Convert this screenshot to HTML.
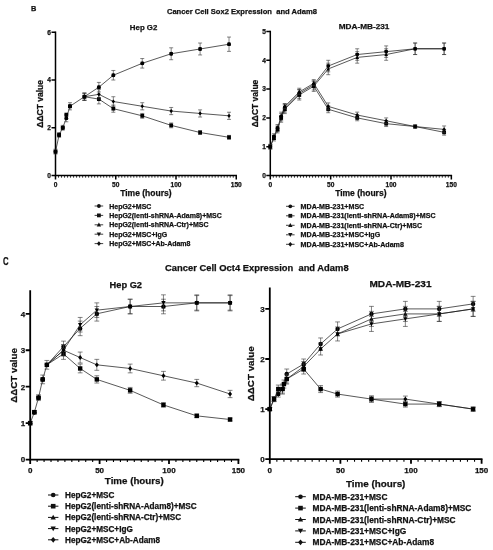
<!DOCTYPE html>
<html lang="en"><head><meta charset="utf-8"><title>Figure</title>
<style>html,body{margin:0;padding:0;background:#fff}svg{display:block}text{stroke:#111;stroke-width:.25px;stroke-linejoin:round}</style></head>
<body>
<svg width="493" height="550" viewBox="0 0 493 550" font-family="'Liberation Sans', Arial, sans-serif" fill="#111">
<rect width="493" height="550" fill="#fff" stroke="none"/>
<text x="31" y="10.7" font-size="7.4" font-weight="bold">B</text>
<text x="166.9" y="13.5" font-size="7.3" font-weight="bold" textLength="150" lengthAdjust="spacingAndGlyphs" xml:space="preserve">Cancer Cell Sox2 Expression  and Adam8</text>
<text x="3" y="265.2" font-size="10.3" font-weight="bold" textLength="5.6" lengthAdjust="spacingAndGlyphs">C</text>
<text x="165.1" y="271.2" font-size="9.3" font-weight="bold" textLength="183.5" lengthAdjust="spacingAndGlyphs" xml:space="preserve">Cancer Cell Oct4 Expression  and Adam8</text>
<g stroke="#000" stroke-width="1.5" fill="none">
<path d="M55.5 31.53V175.5H237"/>
<path d="M51.5 175.5H55.5M51.5 127.76H55.5M51.5 80.02H55.5M51.5 32.28H55.5M55.5 175.5V179.5M115.75 175.5V179.5M176 175.5V179.5M236.25 175.5V179.5"/>
<path d="M58.51 175.5v2.2M61.52 175.5v2.2M64.54 175.5v2.2M67.55 175.5v2.2M70.56 175.5v2.2M73.58 175.5v2.2M76.59 175.5v2.2M79.6 175.5v2.2M82.61 175.5v2.2M85.62 175.5v2.2M88.64 175.5v2.2M91.65 175.5v2.2M94.66 175.5v2.2M97.68 175.5v2.2M100.69 175.5v2.2M103.7 175.5v2.2M106.71 175.5v2.2M109.72 175.5v2.2M112.74 175.5v2.2M118.76 175.5v2.2M121.78 175.5v2.2M124.79 175.5v2.2M127.8 175.5v2.2M130.81 175.5v2.2M133.82 175.5v2.2M136.84 175.5v2.2M139.85 175.5v2.2M142.86 175.5v2.2M145.88 175.5v2.2M148.89 175.5v2.2M151.9 175.5v2.2M154.91 175.5v2.2M157.93 175.5v2.2M160.94 175.5v2.2M163.95 175.5v2.2M166.96 175.5v2.2M169.98 175.5v2.2M172.99 175.5v2.2M179.01 175.5v2.2M182.03 175.5v2.2M185.04 175.5v2.2M188.05 175.5v2.2M191.06 175.5v2.2M194.08 175.5v2.2M197.09 175.5v2.2M200.1 175.5v2.2M203.11 175.5v2.2M206.12 175.5v2.2M209.14 175.5v2.2M212.15 175.5v2.2M215.16 175.5v2.2M218.18 175.5v2.2M221.19 175.5v2.2M224.2 175.5v2.2M227.21 175.5v2.2M230.23 175.5v2.2M233.24 175.5v2.2" stroke-width="0.8"/>
</g>
<g font-size="6.6" font-weight="bold" text-anchor="end">
<text x="51" y="177.88">0</text>
<text x="51" y="130.14">2</text>
<text x="51" y="82.4">4</text>
<text x="51" y="34.66">6</text>
</g>
<g font-size="6.6" font-weight="bold" text-anchor="middle">
<text x="55.5" y="186.6">0</text>
<text x="115.75" y="186.6">50</text>
<text x="176" y="186.6">100</text>
<text x="236.25" y="186.6">150</text>
</g>
<text x="145.88" y="196.2" font-size="8.5" font-weight="bold" text-anchor="middle">Time (hours)</text>
<text transform="translate(42.6 103.89) rotate(-90)" font-size="8.5" font-weight="bold" text-anchor="middle">ΔΔCT value</text>
<g stroke="#111" stroke-width="0.7" fill="none">
<polyline points="55.5,151.63 59.12,134.92 62.73,127.76 66.34,118.21 69.96,106.28 84.42,96.73 98.88,87.18 113.34,75.25 142.26,63.31 171.18,53.76 200.1,48.99 229.02,44.22"/>
<path d="M55.5 149.24V154.02M53.5 149.24h4M53.5 154.02h4M59.12 132.53V137.31M57.12 132.53h4M57.12 137.31h4M62.73 125.37V130.15M60.73 125.37h4M60.73 130.15h4M66.34 114.63V121.79M64.34 114.63h4M64.34 121.79h4M69.96 102.7V109.86M67.96 102.7h4M67.96 109.86h4M84.42 93.15V100.31M82.42 93.15h4M82.42 100.31h4M98.88 82.41V91.95M96.88 82.41h4M96.88 91.95h4M113.34 70.47V80.02M111.34 70.47h4M111.34 80.02h4M142.26 58.54V68.08M140.26 58.54h4M140.26 68.08h4M171.18 47.8V59.73M169.18 47.8h4M169.18 59.73h4M200.1 43.02V54.96M198.1 43.02h4M198.1 54.96h4M229.02 37.05V51.38M227.02 37.05h4M227.02 51.38h4" stroke="#333" stroke-width="0.6"/>
</g>
<g fill="#000">
<circle cx="55.5" cy="151.63" r="1.9"/>
<circle cx="59.12" cy="134.92" r="1.9"/>
<circle cx="62.73" cy="127.76" r="1.9"/>
<circle cx="66.34" cy="118.21" r="1.9"/>
<circle cx="69.96" cy="106.28" r="1.9"/>
<circle cx="84.42" cy="96.73" r="1.9"/>
<circle cx="98.88" cy="87.18" r="1.9"/>
<circle cx="113.34" cy="75.25" r="1.9"/>
<circle cx="142.26" cy="63.31" r="1.9"/>
<circle cx="171.18" cy="53.76" r="1.9"/>
<circle cx="200.1" cy="48.99" r="1.9"/>
<circle cx="229.02" cy="44.22" r="1.9"/>
</g>
<g stroke="#111" stroke-width="0.7" fill="none">
<path d="" stroke="#333" stroke-width="0.6"/>
</g>
<g fill="#000">
<polygon points="55.5,149.73 57.4,153.15 53.6,153.15"/>
<polygon points="59.12,133.02 61.02,136.44 57.22,136.44"/>
<polygon points="62.73,125.86 64.63,129.28 60.83,129.28"/>
<polygon points="66.34,116.31 68.25,119.73 64.44,119.73"/>
<polygon points="69.96,104.38 71.86,107.8 68.06,107.8"/>
<polygon points="84.42,94.83 86.32,98.25 82.52,98.25"/>
<polygon points="98.88,85.28 100.78,88.7 96.98,88.7"/>
<polygon points="113.34,73.35 115.24,76.77 111.44,76.77"/>
<polygon points="142.26,61.41 144.16,64.83 140.36,64.83"/>
<polygon points="171.18,51.86 173.08,55.28 169.28,55.28"/>
<polygon points="200.1,47.09 202,50.51 198.2,50.51"/>
<polygon points="229.02,42.32 230.92,45.74 227.12,45.74"/>
</g>
<g stroke="#111" stroke-width="0.7" fill="none">
<path d="" stroke="#333" stroke-width="0.6"/>
</g>
<g fill="#000">
<polygon points="55.5,153.53 57.4,150.11 53.6,150.11"/>
<polygon points="59.12,136.82 61.02,133.4 57.22,133.4"/>
<polygon points="62.73,129.66 64.63,126.24 60.83,126.24"/>
<polygon points="66.34,120.11 68.25,116.69 64.44,116.69"/>
<polygon points="69.96,108.18 71.86,104.76 68.06,104.76"/>
<polygon points="84.42,98.63 86.32,95.21 82.52,95.21"/>
<polygon points="98.88,89.08 100.78,85.66 96.98,85.66"/>
<polygon points="113.34,77.15 115.24,73.73 111.44,73.73"/>
<polygon points="142.26,65.21 144.16,61.79 140.36,61.79"/>
<polygon points="171.18,55.66 173.08,52.24 169.28,52.24"/>
<polygon points="200.1,50.89 202,47.47 198.2,47.47"/>
<polygon points="229.02,46.12 230.92,42.7 227.12,42.7"/>
</g>
<g stroke="#111" stroke-width="0.7" fill="none">
<polyline points="84.42,96.73 98.88,99.12 113.34,108.66 142.26,115.82 171.18,125.37 200.1,132.53 229.02,137.31"/>
<path d="M84.42 93.15V100.31M82.42 93.15h4M82.42 100.31h4M98.88 94.34V103.89M96.88 94.34h4M96.88 103.89h4M113.34 105.08V112.24M111.34 105.08h4M111.34 112.24h4M142.26 113.44V118.21M140.26 113.44h4M140.26 118.21h4M171.18 122.99V127.76M169.18 122.99h4M169.18 127.76h4M200.1 130.62V134.44M198.1 130.62h4M198.1 134.44h4M229.02 135.4V139.22M227.02 135.4h4M227.02 139.22h4" stroke="#333" stroke-width="0.6"/>
</g>
<g fill="#000">
<rect x="53.6" y="149.73" width="3.8" height="3.8"/>
<rect x="57.22" y="133.02" width="3.8" height="3.8"/>
<rect x="60.83" y="125.86" width="3.8" height="3.8"/>
<rect x="64.44" y="112.73" width="3.8" height="3.8"/>
<rect x="68.06" y="104.38" width="3.8" height="3.8"/>
<rect x="82.52" y="94.83" width="3.8" height="3.8"/>
<rect x="96.98" y="97.22" width="3.8" height="3.8"/>
<rect x="111.44" y="106.76" width="3.8" height="3.8"/>
<rect x="140.36" y="113.92" width="3.8" height="3.8"/>
<rect x="169.28" y="123.47" width="3.8" height="3.8"/>
<rect x="198.2" y="130.63" width="3.8" height="3.8"/>
<rect x="227.12" y="135.41" width="3.8" height="3.8"/>
</g>
<g stroke="#111" stroke-width="0.7" fill="none">
<polyline points="84.42,96.73 98.88,94.34 113.34,101.5 142.26,106.28 171.18,111.05 200.1,113.44 229.02,115.82"/>
<path d="M84.42 93.15V100.31M82.42 93.15h4M82.42 100.31h4M98.88 89.57V99.12M96.88 89.57h4M96.88 99.12h4M113.34 96.73V106.28M111.34 96.73h4M111.34 106.28h4M142.26 102.7V109.86M140.26 102.7h4M140.26 109.86h4M171.18 107.47V114.63M169.18 107.47h4M169.18 114.63h4M200.1 109.86V117.02M198.1 109.86h4M198.1 117.02h4M229.02 112.24V119.41M227.02 112.24h4M227.02 119.41h4" stroke="#333" stroke-width="0.6"/>
</g>
<g fill="#000">
<polygon points="55.5,149.54 57.21,151.63 55.5,153.72 53.79,151.63"/>
<polygon points="59.12,132.83 60.83,134.92 59.12,137.01 57.41,134.92"/>
<polygon points="62.73,125.67 64.44,127.76 62.73,129.85 61.02,127.76"/>
<polygon points="66.34,113.73 68.05,115.82 66.34,117.91 64.64,115.82"/>
<polygon points="69.96,104.19 71.67,106.28 69.96,108.37 68.25,106.28"/>
<polygon points="84.42,94.64 86.13,96.73 84.42,98.82 82.71,96.73"/>
<polygon points="98.88,92.25 100.59,94.34 98.88,96.43 97.17,94.34"/>
<polygon points="113.34,99.41 115.05,101.5 113.34,103.59 111.63,101.5"/>
<polygon points="142.26,104.19 143.97,106.28 142.26,108.37 140.55,106.28"/>
<polygon points="171.18,108.96 172.89,111.05 171.18,113.14 169.47,111.05"/>
<polygon points="200.1,111.35 201.81,113.44 200.1,115.53 198.39,113.44"/>
<polygon points="229.02,113.73 230.73,115.82 229.02,117.91 227.31,115.82"/>
</g>
<g font-size="7" font-weight="bold">
<path d="M94.6 206h8.6" stroke="#111" stroke-width="0.8"/>
<circle cx="98.9" cy="206" r="1.9"/>
<text x="109.2" y="208.52">HepG2+MSC</text>
<path d="M94.6 215.4h8.6" stroke="#111" stroke-width="0.8"/>
<rect x="97" y="213.5" width="3.8" height="3.8"/>
<text x="109.2" y="217.92">HepG2(lenti-shRNA-Adam8)+MSC</text>
<path d="M94.6 224.8h8.6" stroke="#111" stroke-width="0.8"/>
<polygon points="98.9,222.62 101.09,226.55 96.72,226.55"/>
<text x="109.2" y="227.32">HepG2(lenti-shRNA-Ctr)+MSC</text>
<path d="M94.6 234.2h8.6" stroke="#111" stroke-width="0.8"/>
<polygon points="98.9,236.38 101.09,232.45 96.72,232.45"/>
<text x="109.2" y="236.72">HepG2+MSC+IgG</text>
<path d="M94.6 243.6h8.6" stroke="#111" stroke-width="0.8"/>
<polygon points="98.9,241.2 100.87,243.6 98.9,246 96.93,243.6"/>
<text x="109.2" y="246.12">HepG2+MSC+Ab-Adam8</text>
</g>
<text x="143.6" y="30.4" font-size="8.1" font-weight="bold" text-anchor="middle" textLength="27.5" lengthAdjust="spacingAndGlyphs">Hep G2</text>
<g stroke="#000" stroke-width="1.5" fill="none">
<path d="M270.3 30.75V175.5H452.1"/>
<path d="M266.3 175.5H270.3M266.3 146.7H270.3M266.3 117.9H270.3M266.3 89.1H270.3M266.3 60.3H270.3M266.3 31.5H270.3M270.3 175.5V179.5M330.65 175.5V179.5M391 175.5V179.5M451.35 175.5V179.5"/>
<path d="M273.32 175.5v2.2M276.34 175.5v2.2M279.35 175.5v2.2M282.37 175.5v2.2M285.39 175.5v2.2M288.41 175.5v2.2M291.42 175.5v2.2M294.44 175.5v2.2M297.46 175.5v2.2M300.48 175.5v2.2M303.49 175.5v2.2M306.51 175.5v2.2M309.53 175.5v2.2M312.55 175.5v2.2M315.56 175.5v2.2M318.58 175.5v2.2M321.6 175.5v2.2M324.62 175.5v2.2M327.63 175.5v2.2M333.67 175.5v2.2M336.69 175.5v2.2M339.7 175.5v2.2M342.72 175.5v2.2M345.74 175.5v2.2M348.75 175.5v2.2M351.77 175.5v2.2M354.79 175.5v2.2M357.81 175.5v2.2M360.83 175.5v2.2M363.84 175.5v2.2M366.86 175.5v2.2M369.88 175.5v2.2M372.9 175.5v2.2M375.91 175.5v2.2M378.93 175.5v2.2M381.95 175.5v2.2M384.97 175.5v2.2M387.98 175.5v2.2M394.02 175.5v2.2M397.04 175.5v2.2M400.05 175.5v2.2M403.07 175.5v2.2M406.09 175.5v2.2M409.11 175.5v2.2M412.12 175.5v2.2M415.14 175.5v2.2M418.16 175.5v2.2M421.18 175.5v2.2M424.19 175.5v2.2M427.21 175.5v2.2M430.23 175.5v2.2M433.25 175.5v2.2M436.26 175.5v2.2M439.28 175.5v2.2M442.3 175.5v2.2M445.32 175.5v2.2M448.33 175.5v2.2" stroke-width="0.8"/>
</g>
<g font-size="6.6" font-weight="bold" text-anchor="end">
<text x="265.8" y="177.88">0</text>
<text x="265.8" y="149.08">1</text>
<text x="265.8" y="120.28">2</text>
<text x="265.8" y="91.48">3</text>
<text x="265.8" y="62.68">4</text>
<text x="265.8" y="33.88">5</text>
</g>
<g font-size="6.6" font-weight="bold" text-anchor="middle">
<text x="270.3" y="186.6">0</text>
<text x="330.65" y="186.6">50</text>
<text x="391" y="186.6">100</text>
<text x="451.35" y="186.6">150</text>
</g>
<text x="360.83" y="196.3" font-size="8.5" font-weight="bold" text-anchor="middle">Time (hours)</text>
<text transform="translate(258 103.5) rotate(-90)" font-size="8.5" font-weight="bold" text-anchor="middle">ΔΔCT value</text>
<g stroke="#111" stroke-width="0.7" fill="none">
<polyline points="270.3,146.7 273.92,136.62 277.54,127.98 281.16,116.46 284.78,107.82 299.27,93.42 313.75,84.78 328.24,66.06 357.2,54.54 386.17,51.66 415.14,48.78 444.11,48.78"/>
<path d="M270.3 144.4V149M268.3 144.4h4M268.3 149h4M273.92 133.74V139.5M271.92 133.74h4M271.92 139.5h4M277.54 124.52V131.44M275.54 124.52h4M275.54 131.44h4M281.16 112.14V120.78M279.16 112.14h4M279.16 120.78h4M284.78 103.5V112.14M282.78 103.5h4M282.78 112.14h4M299.27 88.24V98.6M297.27 88.24h4M297.27 98.6h4M313.75 79.6V89.96M311.75 79.6h4M311.75 89.96h4M328.24 60.3V71.82M326.24 60.3h4M326.24 71.82h4M357.2 48.78V60.3M355.2 48.78h4M355.2 60.3h4M386.17 45.9V57.42M384.17 45.9h4M384.17 57.42h4M415.14 43.02V54.54M413.14 43.02h4M413.14 54.54h4M444.11 43.02V54.54M442.11 43.02h4M442.11 54.54h4" stroke="#333" stroke-width="0.6"/>
</g>
<g fill="#000">
<circle cx="270.3" cy="146.7" r="1.9"/>
<circle cx="273.92" cy="136.62" r="1.9"/>
<circle cx="277.54" cy="127.98" r="1.9"/>
<circle cx="281.16" cy="116.46" r="1.9"/>
<circle cx="284.78" cy="107.82" r="1.9"/>
<circle cx="299.27" cy="93.42" r="1.9"/>
<circle cx="313.75" cy="84.78" r="1.9"/>
<circle cx="328.24" cy="66.06" r="1.9"/>
<circle cx="357.2" cy="54.54" r="1.9"/>
<circle cx="386.17" cy="51.66" r="1.9"/>
<circle cx="415.14" cy="48.78" r="1.9"/>
<circle cx="444.11" cy="48.78" r="1.9"/>
</g>
<g stroke="#111" stroke-width="0.7" fill="none">
<polyline points="270.3,146.7 273.92,138.06 277.54,129.42 281.16,117.9 284.78,109.26 299.27,94.86 313.75,86.22 328.24,68.94 357.2,57.42 386.17,54.54 415.14,48.78 444.11,48.78"/>
<path d="M270.3 144.4V149M268.3 144.4h4M268.3 149h4M273.92 135.18V140.94M271.92 135.18h4M271.92 140.94h4M277.54 125.96V132.88M275.54 125.96h4M275.54 132.88h4M281.16 113.58V122.22M279.16 113.58h4M279.16 122.22h4M284.78 104.94V113.58M282.78 104.94h4M282.78 113.58h4M299.27 89.68V100.04M297.27 89.68h4M297.27 100.04h4M313.75 81.04V91.4M311.75 81.04h4M311.75 91.4h4M328.24 63.18V74.7M326.24 63.18h4M326.24 74.7h4M357.2 51.66V63.18M355.2 51.66h4M355.2 63.18h4M386.17 48.78V60.3M384.17 48.78h4M384.17 60.3h4M415.14 43.02V54.54M413.14 43.02h4M413.14 54.54h4M444.11 43.02V54.54M442.11 43.02h4M442.11 54.54h4" stroke="#333" stroke-width="0.6"/>
</g>
<g fill="#000">
<polygon points="270.3,144.8 272.2,148.22 268.4,148.22"/>
<polygon points="273.92,136.16 275.82,139.58 272.02,139.58"/>
<polygon points="277.54,127.52 279.44,130.94 275.64,130.94"/>
<polygon points="281.16,116 283.06,119.42 279.26,119.42"/>
<polygon points="284.78,107.36 286.68,110.78 282.88,110.78"/>
<polygon points="299.27,92.96 301.17,96.38 297.37,96.38"/>
<polygon points="313.75,84.32 315.65,87.74 311.85,87.74"/>
<polygon points="328.24,67.04 330.14,70.46 326.34,70.46"/>
<polygon points="357.2,55.52 359.1,58.94 355.3,58.94"/>
<polygon points="386.17,52.64 388.07,56.06 384.27,56.06"/>
<polygon points="415.14,46.88 417.04,50.3 413.24,50.3"/>
<polygon points="444.11,46.88 446.01,50.3 442.21,50.3"/>
</g>
<g stroke="#111" stroke-width="0.7" fill="none">
<path d="" stroke="#333" stroke-width="0.6"/>
</g>
<g fill="#000">
<polygon points="270.3,148.6 272.2,145.18 268.4,145.18"/>
<polygon points="273.92,138.52 275.82,135.1 272.02,135.1"/>
<polygon points="277.54,129.88 279.44,126.46 275.64,126.46"/>
<polygon points="281.16,118.36 283.06,114.94 279.26,114.94"/>
<polygon points="284.78,109.72 286.68,106.3 282.88,106.3"/>
<polygon points="299.27,95.32 301.17,91.9 297.37,91.9"/>
<polygon points="313.75,86.68 315.65,83.26 311.85,83.26"/>
<polygon points="328.24,67.96 330.14,64.54 326.34,64.54"/>
<polygon points="357.2,56.44 359.1,53.02 355.3,53.02"/>
<polygon points="386.17,53.56 388.07,50.14 384.27,50.14"/>
<polygon points="415.14,50.68 417.04,47.26 413.24,47.26"/>
<polygon points="444.11,50.68 446.01,47.26 442.21,47.26"/>
</g>
<g stroke="#111" stroke-width="0.7" fill="none">
<polyline points="313.75,86.22 328.24,109.26 357.2,117.9 386.17,123.66 415.14,126.54 444.11,132.3"/>
<path d="M328.24 105.8V112.72M326.24 105.8h4M326.24 112.72h4M357.2 115.02V120.78M355.2 115.02h4M355.2 120.78h4M386.17 120.78V126.54M384.17 120.78h4M384.17 126.54h4M415.14 125.1V127.98M413.14 125.1h4M413.14 127.98h4M444.11 129.42V135.18M442.11 129.42h4M442.11 135.18h4" stroke="#333" stroke-width="0.6"/>
</g>
<g fill="#000">
<rect x="268.4" y="144.8" width="3.8" height="3.8"/>
<rect x="272.02" y="136.16" width="3.8" height="3.8"/>
<rect x="275.64" y="127.52" width="3.8" height="3.8"/>
<rect x="279.26" y="116" width="3.8" height="3.8"/>
<rect x="282.88" y="107.36" width="3.8" height="3.8"/>
<rect x="297.37" y="92.96" width="3.8" height="3.8"/>
<rect x="311.85" y="84.32" width="3.8" height="3.8"/>
<rect x="326.34" y="107.36" width="3.8" height="3.8"/>
<rect x="355.3" y="116" width="3.8" height="3.8"/>
<rect x="384.27" y="121.76" width="3.8" height="3.8"/>
<rect x="413.24" y="124.64" width="3.8" height="3.8"/>
<rect x="442.21" y="130.4" width="3.8" height="3.8"/>
</g>
<g stroke="#111" stroke-width="0.7" fill="none">
<polyline points="281.16,116.46 284.78,106.38 299.27,91.98 313.75,83.34 328.24,106.38 357.2,115.02 386.17,120.78 415.14,126.54 444.11,129.42"/>
<path d="M284.78 104.08V108.68M282.78 104.08h4M282.78 108.68h4M299.27 89.68V94.28M297.27 89.68h4M297.27 94.28h4M313.75 81.04V85.64M311.75 81.04h4M311.75 85.64h4M328.24 102.92V109.84M326.24 102.92h4M326.24 109.84h4M357.2 112.14V117.9M355.2 112.14h4M355.2 117.9h4M386.17 117.9V123.66M384.17 117.9h4M384.17 123.66h4M415.14 125.1V127.98M413.14 125.1h4M413.14 127.98h4M444.11 125.96V132.88M442.11 125.96h4M442.11 132.88h4" stroke="#333" stroke-width="0.6"/>
</g>
<g fill="#000">
<polygon points="270.3,144.61 272.01,146.7 270.3,148.79 268.59,146.7"/>
<polygon points="273.92,134.53 275.63,136.62 273.92,138.71 272.21,136.62"/>
<polygon points="277.54,125.89 279.25,127.98 277.54,130.07 275.83,127.98"/>
<polygon points="281.16,114.37 282.87,116.46 281.16,118.55 279.45,116.46"/>
<polygon points="284.78,104.29 286.49,106.38 284.78,108.47 283.07,106.38"/>
<polygon points="299.27,89.89 300.98,91.98 299.27,94.07 297.56,91.98"/>
<polygon points="313.75,81.25 315.46,83.34 313.75,85.43 312.04,83.34"/>
<polygon points="328.24,104.29 329.95,106.38 328.24,108.47 326.53,106.38"/>
<polygon points="357.2,112.93 358.91,115.02 357.2,117.11 355.49,115.02"/>
<polygon points="386.17,118.69 387.88,120.78 386.17,122.87 384.46,120.78"/>
<polygon points="415.14,124.45 416.85,126.54 415.14,128.63 413.43,126.54"/>
<polygon points="444.11,127.33 445.82,129.42 444.11,131.51 442.4,129.42"/>
</g>
<g font-size="7.1" font-weight="bold">
<path d="M286 206.3h8.6" stroke="#111" stroke-width="0.8"/>
<circle cx="290.3" cy="206.3" r="1.9"/>
<text x="300.6" y="208.86">MDA-MB-231+MSC</text>
<path d="M286 215.8h8.6" stroke="#111" stroke-width="0.8"/>
<rect x="288.4" y="213.9" width="3.8" height="3.8"/>
<text x="300.6" y="218.36">MDA-MB-231(lenti-shRNA-Adam8)+MSC</text>
<path d="M286 225.3h8.6" stroke="#111" stroke-width="0.8"/>
<polygon points="290.3,223.12 292.49,227.05 288.12,227.05"/>
<text x="300.6" y="227.86">MDA-MB-231(lenti-shRNA-Ctr)+MSC</text>
<path d="M286 234.8h8.6" stroke="#111" stroke-width="0.8"/>
<polygon points="290.3,236.99 292.49,233.05 288.12,233.05"/>
<text x="300.6" y="237.36">MDA-MB-231+MSC+IgG</text>
<path d="M286 244.3h8.6" stroke="#111" stroke-width="0.8"/>
<polygon points="290.3,241.9 292.27,244.3 290.3,246.7 288.33,244.3"/>
<text x="300.6" y="246.86">MDA-MB-231+MSC+Ab-Adam8</text>
</g>
<text x="364.1" y="29.3" font-size="8" font-weight="bold" text-anchor="middle" textLength="50.7" lengthAdjust="spacingAndGlyphs">MDA-MB-231</text>
<g stroke="#000" stroke-width="1.8" fill="none">
<path d="M30.2 290.3V459.6H239.3"/>
<path d="M25.7 459.6H30.2M25.7 423.15H30.2M25.7 386.7H30.2M25.7 350.25H30.2M25.7 313.8H30.2M30.2 459.6V464.1M99.6 459.6V464.1M169 459.6V464.1M238.4 459.6V464.1"/>
<path d="M37.14 459.6v2.48M44.08 459.6v2.48M51.02 459.6v2.48M57.96 459.6v2.48M64.9 459.6v2.48M71.84 459.6v2.48M78.78 459.6v2.48M85.72 459.6v2.48M92.66 459.6v2.48M106.54 459.6v2.48M113.48 459.6v2.48M120.42 459.6v2.48M127.36 459.6v2.48M134.3 459.6v2.48M141.24 459.6v2.48M148.18 459.6v2.48M155.12 459.6v2.48M162.06 459.6v2.48M175.94 459.6v2.48M182.88 459.6v2.48M189.82 459.6v2.48M196.76 459.6v2.48M203.7 459.6v2.48M210.64 459.6v2.48M217.58 459.6v2.48M224.52 459.6v2.48M231.46 459.6v2.48" stroke-width="1.1"/>
</g>
<g font-size="8" font-weight="bold" text-anchor="end">
<text x="25.2" y="462.48">0</text>
<text x="25.2" y="426.03">1</text>
<text x="25.2" y="389.58">2</text>
<text x="25.2" y="353.13">3</text>
<text x="25.2" y="316.68">4</text>
</g>
<g font-size="8" font-weight="bold" text-anchor="middle">
<text x="30.2" y="472.6">0</text>
<text x="99.6" y="472.6">50</text>
<text x="169" y="472.6">100</text>
<text x="238.4" y="472.6">150</text>
</g>
<text x="134.3" y="483.8" font-size="9.75" font-weight="bold" text-anchor="middle">Time (hours)</text>
<text transform="translate(16.5 375.4) rotate(-90)" font-size="9.75" font-weight="bold" text-anchor="middle">ΔΔCT value</text>
<g stroke="#111" stroke-width="0.7" fill="none">
<polyline points="30.2,423.15 34.36,412.22 38.53,397.63 42.69,379.41 46.86,364.83 63.51,346.61 80.17,328.38 96.82,313.8 130.14,306.51 163.45,306.51 196.76,302.87 230.07,302.87"/>
<path d="M30.2 421.33V424.97M27.8 421.33h4.8M27.8 424.97h4.8M34.36 410.39V414.04M31.96 410.39h4.8M31.96 414.04h4.8M38.53 394.72V400.55M36.13 394.72h4.8M36.13 400.55h4.8M42.69 375.04V383.78M40.29 375.04h4.8M40.29 383.78h4.8M46.86 360.46V369.2M44.46 360.46h4.8M44.46 369.2h4.8M63.51 341.14V352.07M61.11 341.14h4.8M61.11 352.07h4.8M80.17 321.09V335.67M77.77 321.09h4.8M77.77 335.67h4.8M96.82 306.51V321.09M94.42 306.51h4.8M94.42 321.09h4.8M130.14 299.22V313.8M127.74 299.22h4.8M127.74 313.8h4.8M163.45 299.22V313.8M161.05 299.22h4.8M161.05 313.8h4.8M196.76 295.57V310.16M194.36 295.57h4.8M194.36 310.16h4.8M230.07 295.57V310.16M227.67 295.57h4.8M227.67 310.16h4.8" stroke="#333" stroke-width="0.6"/>
</g>
<g fill="#000">
<circle cx="30.2" cy="423.15" r="2.2"/>
<circle cx="34.36" cy="412.22" r="2.2"/>
<circle cx="38.53" cy="397.63" r="2.2"/>
<circle cx="42.69" cy="379.41" r="2.2"/>
<circle cx="46.86" cy="364.83" r="2.2"/>
<circle cx="63.51" cy="346.61" r="2.2"/>
<circle cx="80.17" cy="328.38" r="2.2"/>
<circle cx="96.82" cy="313.8" r="2.2"/>
<circle cx="130.14" cy="306.51" r="2.2"/>
<circle cx="163.45" cy="306.51" r="2.2"/>
<circle cx="196.76" cy="302.87" r="2.2"/>
<circle cx="230.07" cy="302.87" r="2.2"/>
</g>
<g stroke="#111" stroke-width="0.7" fill="none">
<path d="" stroke="#333" stroke-width="0.6"/>
</g>
<g fill="#000">
<polygon points="30.2,420.95 32.4,424.91 28,424.91"/>
<polygon points="34.36,410.02 36.56,413.98 32.16,413.98"/>
<polygon points="38.53,395.44 40.73,399.39 36.33,399.39"/>
<polygon points="42.69,377.21 44.89,381.17 40.49,381.17"/>
<polygon points="46.86,362.63 49.06,366.59 44.66,366.59"/>
<polygon points="63.51,344.41 65.71,348.37 61.31,348.37"/>
<polygon points="80.17,326.18 82.37,330.14 77.97,330.14"/>
<polygon points="96.82,311.6 99.02,315.56 94.62,315.56"/>
<polygon points="130.14,304.31 132.34,308.27 127.94,308.27"/>
<polygon points="163.45,304.31 165.65,308.27 161.25,308.27"/>
<polygon points="196.76,300.67 198.96,304.62 194.56,304.62"/>
<polygon points="230.07,300.67 232.27,304.62 227.87,304.62"/>
</g>
<g stroke="#111" stroke-width="0.7" fill="none">
<polyline points="46.86,364.83 63.51,350.25 80.17,324.74 96.82,310.16 130.14,306.51 163.45,302.87 196.76,302.87 230.07,302.87"/>
<path d="M63.51 344.78V355.72M61.11 344.78h4.8M61.11 355.72h4.8M80.17 317.44V332.03M77.77 317.44h4.8M77.77 332.03h4.8M96.82 302.87V317.45M94.42 302.87h4.8M94.42 317.45h4.8M130.14 299.22V313.8M127.74 299.22h4.8M127.74 313.8h4.8M163.45 294.85V310.88M161.05 294.85h4.8M161.05 310.88h4.8M196.76 294.85V310.88M194.36 294.85h4.8M194.36 310.88h4.8M230.07 294.85V310.88M227.67 294.85h4.8M227.67 310.88h4.8" stroke="#333" stroke-width="0.6"/>
</g>
<g fill="#000">
<polygon points="30.2,425.35 32.4,421.39 28,421.39"/>
<polygon points="34.36,414.42 36.56,410.46 32.16,410.46"/>
<polygon points="38.53,399.83 40.73,395.88 36.33,395.88"/>
<polygon points="42.69,381.61 44.89,377.65 40.49,377.65"/>
<polygon points="46.86,367.03 49.06,363.07 44.66,363.07"/>
<polygon points="63.51,352.45 65.71,348.49 61.31,348.49"/>
<polygon points="80.17,326.94 82.37,322.98 77.97,322.98"/>
<polygon points="96.82,312.36 99.02,308.4 94.62,308.4"/>
<polygon points="130.14,308.71 132.34,304.75 127.94,304.75"/>
<polygon points="163.45,305.06 165.65,301.11 161.25,301.11"/>
<polygon points="196.76,305.06 198.96,301.11 194.56,301.11"/>
<polygon points="230.07,305.06 232.27,301.11 227.87,301.11"/>
</g>
<g stroke="#111" stroke-width="0.7" fill="none">
<polyline points="46.86,364.83 63.51,353.9 80.17,368.48 96.82,379.41 130.14,390.35 163.45,404.93 196.76,415.86 230.07,419.5"/>
<path d="M63.51 348.43V359.36M61.11 348.43h4.8M61.11 359.36h4.8M80.17 364.1V372.85M77.77 364.1h4.8M77.77 372.85h4.8M96.82 375.77V383.06M94.42 375.77h4.8M94.42 383.06h4.8M130.14 387.43V393.26M127.74 387.43h4.8M127.74 393.26h4.8M163.45 402.74V407.11M161.05 402.74h4.8M161.05 407.11h4.8M196.76 414.04V417.68M194.36 414.04h4.8M194.36 417.68h4.8M230.07 418.05V420.96M227.67 418.05h4.8M227.67 420.96h4.8" stroke="#333" stroke-width="0.6"/>
</g>
<g fill="#000">
<rect x="28" y="420.95" width="4.4" height="4.4"/>
<rect x="32.16" y="410.02" width="4.4" height="4.4"/>
<rect x="36.33" y="395.44" width="4.4" height="4.4"/>
<rect x="40.49" y="377.21" width="4.4" height="4.4"/>
<rect x="44.66" y="362.63" width="4.4" height="4.4"/>
<rect x="61.31" y="351.7" width="4.4" height="4.4"/>
<rect x="77.97" y="366.28" width="4.4" height="4.4"/>
<rect x="94.62" y="377.21" width="4.4" height="4.4"/>
<rect x="127.94" y="388.15" width="4.4" height="4.4"/>
<rect x="161.25" y="402.73" width="4.4" height="4.4"/>
<rect x="194.56" y="413.66" width="4.4" height="4.4"/>
<rect x="227.87" y="417.31" width="4.4" height="4.4"/>
</g>
<g stroke="#111" stroke-width="0.7" fill="none">
<polyline points="46.86,364.83 63.51,350.25 80.17,357.54 96.82,364.83 130.14,368.48 163.45,375.77 196.76,383.06 230.07,393.99"/>
<path d="M63.51 344.78V355.72M61.11 344.78h4.8M61.11 355.72h4.8M80.17 352.07V363.01M77.77 352.07h4.8M77.77 363.01h4.8M96.82 359.36V370.3M94.42 359.36h4.8M94.42 370.3h4.8M130.14 364.1V372.85M127.74 364.1h4.8M127.74 372.85h4.8M163.45 371.39V380.14M161.05 371.39h4.8M161.05 380.14h4.8M196.76 379.41V386.7M194.36 379.41h4.8M194.36 386.7h4.8M230.07 390.35V397.63M227.67 390.35h4.8M227.67 397.63h4.8" stroke="#333" stroke-width="0.6"/>
</g>
<g fill="#000">
<polygon points="30.2,420.73 32.18,423.15 30.2,425.57 28.22,423.15"/>
<polygon points="34.36,409.8 36.34,412.22 34.36,414.64 32.38,412.22"/>
<polygon points="38.53,395.21 40.51,397.63 38.53,400.06 36.55,397.63"/>
<polygon points="42.69,376.99 44.67,379.41 42.69,381.83 40.71,379.41"/>
<polygon points="46.86,362.41 48.84,364.83 46.86,367.25 44.88,364.83"/>
<polygon points="63.51,347.83 65.49,350.25 63.51,352.67 61.53,350.25"/>
<polygon points="80.17,355.12 82.15,357.54 80.17,359.96 78.19,357.54"/>
<polygon points="96.82,362.41 98.8,364.83 96.82,367.25 94.84,364.83"/>
<polygon points="130.14,366.06 132.12,368.48 130.14,370.9 128.16,368.48"/>
<polygon points="163.45,373.35 165.43,375.77 163.45,378.19 161.47,375.77"/>
<polygon points="196.76,380.63 198.74,383.06 196.76,385.48 194.78,383.06"/>
<polygon points="230.07,391.57 232.05,393.99 230.07,396.41 228.09,393.99"/>
</g>
<g font-size="8.2" font-weight="bold">
<path d="M48 495h10.4" stroke="#111" stroke-width="1"/>
<circle cx="53.2" cy="495" r="2.3"/>
<text x="65" y="497.95">HepG2+MSC</text>
<path d="M48 506.2h10.4" stroke="#111" stroke-width="1"/>
<rect x="50.9" y="503.9" width="4.6" height="4.6"/>
<text x="65" y="509.15">HepG2(lenti-shRNA-Adam8)+MSC</text>
<path d="M48 517.4h10.4" stroke="#111" stroke-width="1"/>
<polygon points="53.2,514.75 55.84,519.52 50.56,519.52"/>
<text x="65" y="520.35">HepG2(lenti-shRNA-Ctr)+MSC</text>
<path d="M48 528.6h10.4" stroke="#111" stroke-width="1"/>
<polygon points="53.2,531.25 55.84,526.48 50.56,526.48"/>
<text x="65" y="531.55">HepG2+MSC+IgG</text>
<path d="M48 539.8h10.4" stroke="#111" stroke-width="1"/>
<polygon points="53.2,536.89 55.58,539.8 53.2,542.71 50.82,539.8"/>
<text x="65" y="542.75">HepG2+MSC+Ab-Adam8</text>
</g>
<text x="125.8" y="288.4" font-size="9.3" font-weight="bold" text-anchor="middle" textLength="32.5" lengthAdjust="spacingAndGlyphs">Hep G2</text>
<g stroke="#000" stroke-width="1.8" fill="none">
<path d="M269.8 287.46V459.2H482.5"/>
<path d="M265.3 459.2H269.8M265.3 409.1H269.8M265.3 359H269.8M265.3 308.9H269.8M269.8 459.2V463.7M340.4 459.2V463.7M411 459.2V463.7M481.6 459.2V463.7"/>
<path d="M276.86 459.2v2.48M283.92 459.2v2.48M290.98 459.2v2.48M298.04 459.2v2.48M305.1 459.2v2.48M312.16 459.2v2.48M319.22 459.2v2.48M326.28 459.2v2.48M333.34 459.2v2.48M347.46 459.2v2.48M354.52 459.2v2.48M361.58 459.2v2.48M368.64 459.2v2.48M375.7 459.2v2.48M382.76 459.2v2.48M389.82 459.2v2.48M396.88 459.2v2.48M403.94 459.2v2.48M418.06 459.2v2.48M425.12 459.2v2.48M432.18 459.2v2.48M439.24 459.2v2.48M446.3 459.2v2.48M453.36 459.2v2.48M460.42 459.2v2.48M467.48 459.2v2.48M474.54 459.2v2.48" stroke-width="1.1"/>
</g>
<g font-size="8" font-weight="bold" text-anchor="end">
<text x="264.8" y="462.08">0</text>
<text x="264.8" y="411.98">1</text>
<text x="264.8" y="361.88">2</text>
<text x="264.8" y="311.78">3</text>
</g>
<g font-size="8" font-weight="bold" text-anchor="middle">
<text x="269.8" y="473.3">0</text>
<text x="340.4" y="473.3">50</text>
<text x="411" y="473.3">100</text>
<text x="481.6" y="473.3">150</text>
</g>
<text x="375.7" y="487.2" font-size="9.85" font-weight="bold" text-anchor="middle">Time (hours)</text>
<text transform="translate(254.4 373.78) rotate(-90)" font-size="9.85" font-weight="bold" text-anchor="middle">ΔΔCT value</text>
<g stroke="#111" stroke-width="0.7" fill="none">
<polyline points="269.8,409.1 274.04,399.08 278.27,394.07 282.51,389.06 286.74,374.03 303.69,364.01 320.63,343.97 337.58,328.94 371.46,313.91 405.35,308.9 439.24,308.9 473.13,303.89"/>
<path d="M269.8 407.6V410.6M267.4 407.6h4.8M267.4 410.6h4.8M274.04 396.57V401.58M271.64 396.57h4.8M271.64 401.58h4.8M278.27 391.06V397.08M275.87 391.06h4.8M275.87 397.08h4.8M282.51 385.05V393.07M280.11 385.05h4.8M280.11 393.07h4.8M286.74 369.02V379.04M284.34 369.02h4.8M284.34 379.04h4.8M303.69 359V369.02M301.29 359h4.8M301.29 369.02h4.8M320.63 337.96V349.98M318.23 337.96h4.8M318.23 349.98h4.8M337.58 321.93V335.95M335.18 321.93h4.8M335.18 335.95h4.8M371.46 306.39V321.42M369.06 306.39h4.8M369.06 321.42h4.8M405.35 301.38V316.41M402.95 301.38h4.8M402.95 316.41h4.8M439.24 301.38V316.41M436.84 301.38h4.8M436.84 316.41h4.8M473.13 296.38V311.4M470.73 296.38h4.8M470.73 311.4h4.8" stroke="#333" stroke-width="0.6"/>
</g>
<g fill="#000">
<circle cx="269.8" cy="409.1" r="2.2"/>
<circle cx="274.04" cy="399.08" r="2.2"/>
<circle cx="278.27" cy="394.07" r="2.2"/>
<circle cx="282.51" cy="389.06" r="2.2"/>
<circle cx="286.74" cy="374.03" r="2.2"/>
<circle cx="303.69" cy="364.01" r="2.2"/>
<circle cx="320.63" cy="343.97" r="2.2"/>
<circle cx="337.58" cy="328.94" r="2.2"/>
<circle cx="371.46" cy="313.91" r="2.2"/>
<circle cx="405.35" cy="308.9" r="2.2"/>
<circle cx="439.24" cy="308.9" r="2.2"/>
<circle cx="473.13" cy="303.89" r="2.2"/>
</g>
<g stroke="#111" stroke-width="0.7" fill="none">
<polyline points="282.51,389.06 286.74,379.04 303.69,366.51 320.63,348.98 337.58,333.95 371.46,318.92 405.35,313.91 439.24,313.91 473.13,308.9"/>
<path d="M286.74 374.03V384.05M284.34 374.03h4.8M284.34 384.05h4.8M303.69 361.5V371.52M301.29 361.5h4.8M301.29 371.52h4.8M320.63 342.97V354.99M318.23 342.97h4.8M318.23 354.99h4.8M337.58 326.94V340.96M335.18 326.94h4.8M335.18 340.96h4.8M371.46 311.4V326.43M369.06 311.4h4.8M369.06 326.43h4.8M405.35 306.39V321.42M402.95 306.39h4.8M402.95 321.42h4.8M439.24 306.39V321.42M436.84 306.39h4.8M436.84 321.42h4.8M473.13 301.38V316.41M470.73 301.38h4.8M470.73 316.41h4.8" stroke="#333" stroke-width="0.6"/>
</g>
<g fill="#000">
<polygon points="269.8,406.9 272,410.86 267.6,410.86"/>
<polygon points="274.04,396.88 276.24,400.84 271.84,400.84"/>
<polygon points="278.27,391.87 280.47,395.83 276.07,395.83"/>
<polygon points="282.51,386.86 284.71,390.82 280.31,390.82"/>
<polygon points="286.74,376.84 288.94,380.8 284.54,380.8"/>
<polygon points="303.69,364.31 305.89,368.27 301.49,368.27"/>
<polygon points="320.63,346.78 322.83,350.74 318.43,350.74"/>
<polygon points="337.58,331.75 339.78,335.71 335.38,335.71"/>
<polygon points="371.46,316.72 373.66,320.68 369.26,320.68"/>
<polygon points="405.35,311.71 407.55,315.67 403.15,315.67"/>
<polygon points="439.24,311.71 441.44,315.67 437.04,315.67"/>
<polygon points="473.13,306.7 475.33,310.66 470.93,310.66"/>
</g>
<g stroke="#111" stroke-width="0.7" fill="none">
<polyline points="337.58,333.95 371.46,323.93 405.35,318.92 439.24,313.91 473.13,308.9"/>
<path d="M371.46 316.41V331.44M369.06 316.41h4.8M369.06 331.44h4.8M405.35 311.4V326.43M402.95 311.4h4.8M402.95 326.43h4.8M439.24 306.39V321.42M436.84 306.39h4.8M436.84 321.42h4.8M473.13 301.38V316.41M470.73 301.38h4.8M470.73 316.41h4.8" stroke="#333" stroke-width="0.6"/>
</g>
<g fill="#000">
<polygon points="269.8,411.3 272,407.34 267.6,407.34"/>
<polygon points="274.04,401.28 276.24,397.32 271.84,397.32"/>
<polygon points="278.27,396.27 280.47,392.31 276.07,392.31"/>
<polygon points="282.51,391.26 284.71,387.3 280.31,387.3"/>
<polygon points="286.74,381.24 288.94,377.28 284.54,377.28"/>
<polygon points="303.69,368.71 305.89,364.75 301.49,364.75"/>
<polygon points="320.63,351.18 322.83,347.22 318.43,347.22"/>
<polygon points="337.58,336.15 339.78,332.19 335.38,332.19"/>
<polygon points="371.46,326.13 373.66,322.17 369.26,322.17"/>
<polygon points="405.35,321.12 407.55,317.16 403.15,317.16"/>
<polygon points="439.24,316.11 441.44,312.15 437.04,312.15"/>
<polygon points="473.13,311.1 475.33,307.14 470.93,307.14"/>
</g>
<g stroke="#111" stroke-width="0.7" fill="none">
<polyline points="269.8,409.1 274.04,399.08 278.27,389.06 282.51,389.06 283.92,384.05 286.74,379.04 303.69,369.02 320.63,389.06 337.58,394.07 371.46,399.08 405.35,404.09 439.24,404.09 473.13,409.1"/>
<path d="M269.8 407.6V410.6M267.4 407.6h4.8M267.4 410.6h4.8M274.04 396.57V401.58M271.64 396.57h4.8M271.64 401.58h4.8M278.27 385.05V393.07M275.87 385.05h4.8M275.87 393.07h4.8M282.51 384.05V394.07M280.11 384.05h4.8M280.11 394.07h4.8M283.92 380.04V388.06M281.52 380.04h4.8M281.52 388.06h4.8M286.74 375.03V383.05M284.34 375.03h4.8M284.34 383.05h4.8M303.69 364.01V374.03M301.29 364.01h4.8M301.29 374.03h4.8M320.63 385.55V392.57M318.23 385.55h4.8M318.23 392.57h4.8M337.58 391.06V397.08M335.18 391.06h4.8M335.18 397.08h4.8M371.46 396.07V402.09M369.06 396.07h4.8M369.06 402.09h4.8M405.35 401.08V407.1M402.95 401.08h4.8M402.95 407.1h4.8M439.24 401.58V406.59M436.84 401.58h4.8M436.84 406.59h4.8M473.13 407.1V411.1M470.73 407.1h4.8M470.73 411.1h4.8" stroke="#333" stroke-width="0.6"/>
</g>
<g fill="#000">
<rect x="267.6" y="406.9" width="4.4" height="4.4"/>
<rect x="271.84" y="396.88" width="4.4" height="4.4"/>
<rect x="276.07" y="386.86" width="4.4" height="4.4"/>
<rect x="280.31" y="386.86" width="4.4" height="4.4"/>
<rect x="281.72" y="381.85" width="4.4" height="4.4"/>
<rect x="284.54" y="376.84" width="4.4" height="4.4"/>
<rect x="301.49" y="366.82" width="4.4" height="4.4"/>
<rect x="318.43" y="386.86" width="4.4" height="4.4"/>
<rect x="335.38" y="391.87" width="4.4" height="4.4"/>
<rect x="369.26" y="396.88" width="4.4" height="4.4"/>
<rect x="403.15" y="401.89" width="4.4" height="4.4"/>
<rect x="437.04" y="401.89" width="4.4" height="4.4"/>
<rect x="470.93" y="406.9" width="4.4" height="4.4"/>
</g>
<g stroke="#111" stroke-width="0.7" fill="none">
<polyline points="371.46,399.08 405.35,399.08 439.24,404.09 473.13,409.1"/>
<path d="M371.46 396.07V402.09M369.06 396.07h4.8M369.06 402.09h4.8M405.35 396.07V402.09M402.95 396.07h4.8M402.95 402.09h4.8M439.24 401.58V406.59M436.84 401.58h4.8M436.84 406.59h4.8M473.13 407.1V411.1M470.73 407.1h4.8M470.73 411.1h4.8" stroke="#333" stroke-width="0.6"/>
</g>
<g fill="#000">
<polygon points="269.8,406.68 271.78,409.1 269.8,411.52 267.82,409.1"/>
<polygon points="274.04,396.66 276.02,399.08 274.04,401.5 272.06,399.08"/>
<polygon points="278.27,391.65 280.25,394.07 278.27,396.49 276.29,394.07"/>
<polygon points="282.51,386.64 284.49,389.06 282.51,391.48 280.53,389.06"/>
<polygon points="286.74,376.62 288.72,379.04 286.74,381.46 284.76,379.04"/>
<polygon points="303.69,366.6 305.67,369.02 303.69,371.44 301.71,369.02"/>
<polygon points="320.63,386.64 322.61,389.06 320.63,391.48 318.65,389.06"/>
<polygon points="337.58,391.65 339.56,394.07 337.58,396.49 335.6,394.07"/>
<polygon points="371.46,396.66 373.44,399.08 371.46,401.5 369.48,399.08"/>
<polygon points="405.35,396.66 407.33,399.08 405.35,401.5 403.37,399.08"/>
<polygon points="439.24,401.67 441.22,404.09 439.24,406.51 437.26,404.09"/>
<polygon points="473.13,406.68 475.11,409.1 473.13,411.52 471.15,409.1"/>
</g>
<g font-size="8.35" font-weight="bold">
<path d="M295.2 496.7h10.6" stroke="#111" stroke-width="1"/>
<circle cx="300.5" cy="496.7" r="2.3"/>
<text x="312.6" y="499.71">MDA-MB-231+MSC</text>
<path d="M295.2 508.1h10.6" stroke="#111" stroke-width="1"/>
<rect x="298.2" y="505.8" width="4.6" height="4.6"/>
<text x="312.6" y="511.11">MDA-MB-231(lenti-shRNA-Adam8)+MSC</text>
<path d="M295.2 519.5h10.6" stroke="#111" stroke-width="1"/>
<polygon points="300.5,516.86 303.14,521.62 297.86,521.62"/>
<text x="312.6" y="522.51">MDA-MB-231(lenti-shRNA-Ctr)+MSC</text>
<path d="M295.2 530.9h10.6" stroke="#111" stroke-width="1"/>
<polygon points="300.5,533.54 303.14,528.78 297.86,528.78"/>
<text x="312.6" y="533.91">MDA-MB-231+MSC+IgG</text>
<path d="M295.2 542.3h10.6" stroke="#111" stroke-width="1"/>
<polygon points="300.5,539.39 302.88,542.3 300.5,545.21 298.12,542.3"/>
<text x="312.6" y="545.31">MDA-MB-231+MSC+Ab-Adam8</text>
</g>
<text x="400.5" y="287.3" font-size="9.5" font-weight="bold" text-anchor="middle" textLength="62" lengthAdjust="spacingAndGlyphs">MDA-MB-231</text>
</svg>
</body></html>
